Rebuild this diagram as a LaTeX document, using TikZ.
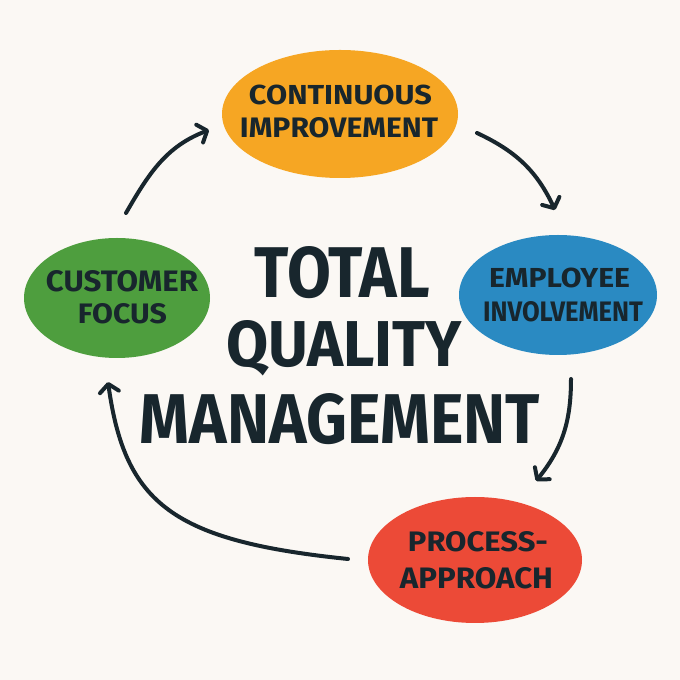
\documentclass[tikz,border=0pt]{standalone}
\usepackage{fontspec}
\setmainfont{Fira Sans}
\usetikzlibrary{shapes.geometric,arrows.meta}
\definecolor{bg}{HTML}{FBF8F4}
\definecolor{ink}{HTML}{18262D}
\definecolor{cOrange}{HTML}{F6A623}
\definecolor{cBlue}{HTML}{2A8AC2}
\definecolor{cGreen}{HTML}{4E9E3E}
\definecolor{cRed}{HTML}{EC4A37}
\tikzset{
  blob/.style={ellipse, inner sep=0pt, draw=none},
  lbl/.style={inner sep=0pt, anchor=base, text=ink, font=\bfseries},
  ttl/.style={inner sep=0pt, anchor=base, text=ink, font=\bfseries},
  arr/.style={draw=ink, line width=4pt, line cap=round,
    -{Straight Barb[length=8pt,width=19pt,round]}}
}
\newcommand{\fitw}[3]{\resizebox{#1pt}{#2pt}{#3}}
\begin{document}
\begin{tikzpicture}[x=1pt,y=1pt]
\fill[bg] (0,0) rectangle (680,680);
\useasboundingbox (0,0) rectangle (680,680);

% ellipses
\node[blob, fill=cOrange, minimum width=236pt, minimum height=128pt] (ci) at (340,566) {};
\node[blob, fill=cBlue,   minimum width=198pt, minimum height=120pt] (ei) at (558,385) {};
\node[blob, fill=cGreen,  minimum width=186pt, minimum height=120pt] (cf) at (117,382) {};
\node[blob, fill=cRed,    minimum width=214pt, minimum height=126pt] (pa) at (475,120) {};

% labels
\node[lbl] (ci1) at (340.5,575) {\fitw{183}{19.5}{CONTINUOUS}};
\node[lbl] (ci2) at (339,542)   {\fitw{198}{20}{IMPROVEMENT}};
\node[lbl] (ei1) at (559.5,392) {\fitw{141}{19.5}{EMPLOYEE}};
\node[lbl] (ei2) at (563,358)   {\fitw{160}{20}{INVOLVEMENT}};
\node[lbl] (cf1) at (122,388)   {\fitw{152}{21}{CUSTOMER}};
\node[lbl] (cf2) at (122.5,356) {\fitw{89}{20}{FOCUS}};
\node[lbl] (pa1) at (478,128)   {\fitw{140}{20}{PROCESS-}};
\node[lbl] (pa2) at (476.5,92)  {\fitw{153}{21}{APPROACH}};

% title
\node[ttl] (t1) at (342.5,382) {\fitw{175}{51}{TOTAL}};
\node[ttl] (t2) at (344,313)   {\fitw{236}{46}{QUALITY}};
\node[ttl] (t3) at (340,237)   {\fitw{400}{50}{MANAGEMENT}};

% arrow end points
\coordinate (a1s) at (126,467); \coordinate (a1e) at (209,550);
\coordinate (a2s) at (477,547); \coordinate (a2e) at (555,470);
\coordinate (a3s) at (571,301); \coordinate (a3e) at (536,199);
\coordinate (a4s) at (348,121); \coordinate (a4e) at (108,298);

\draw[arr] (a1s) to[out=60,in=201] (a1e);
\draw[arr] (a2s) to[out=-25,in=115] (a2e);
\draw[arr] (a3s) to[out=-90,in=51] (a3e);
\draw[arr] (a4s) .. controls (173,139) and (125,176) .. (a4e);
\end{tikzpicture}
\end{document}
